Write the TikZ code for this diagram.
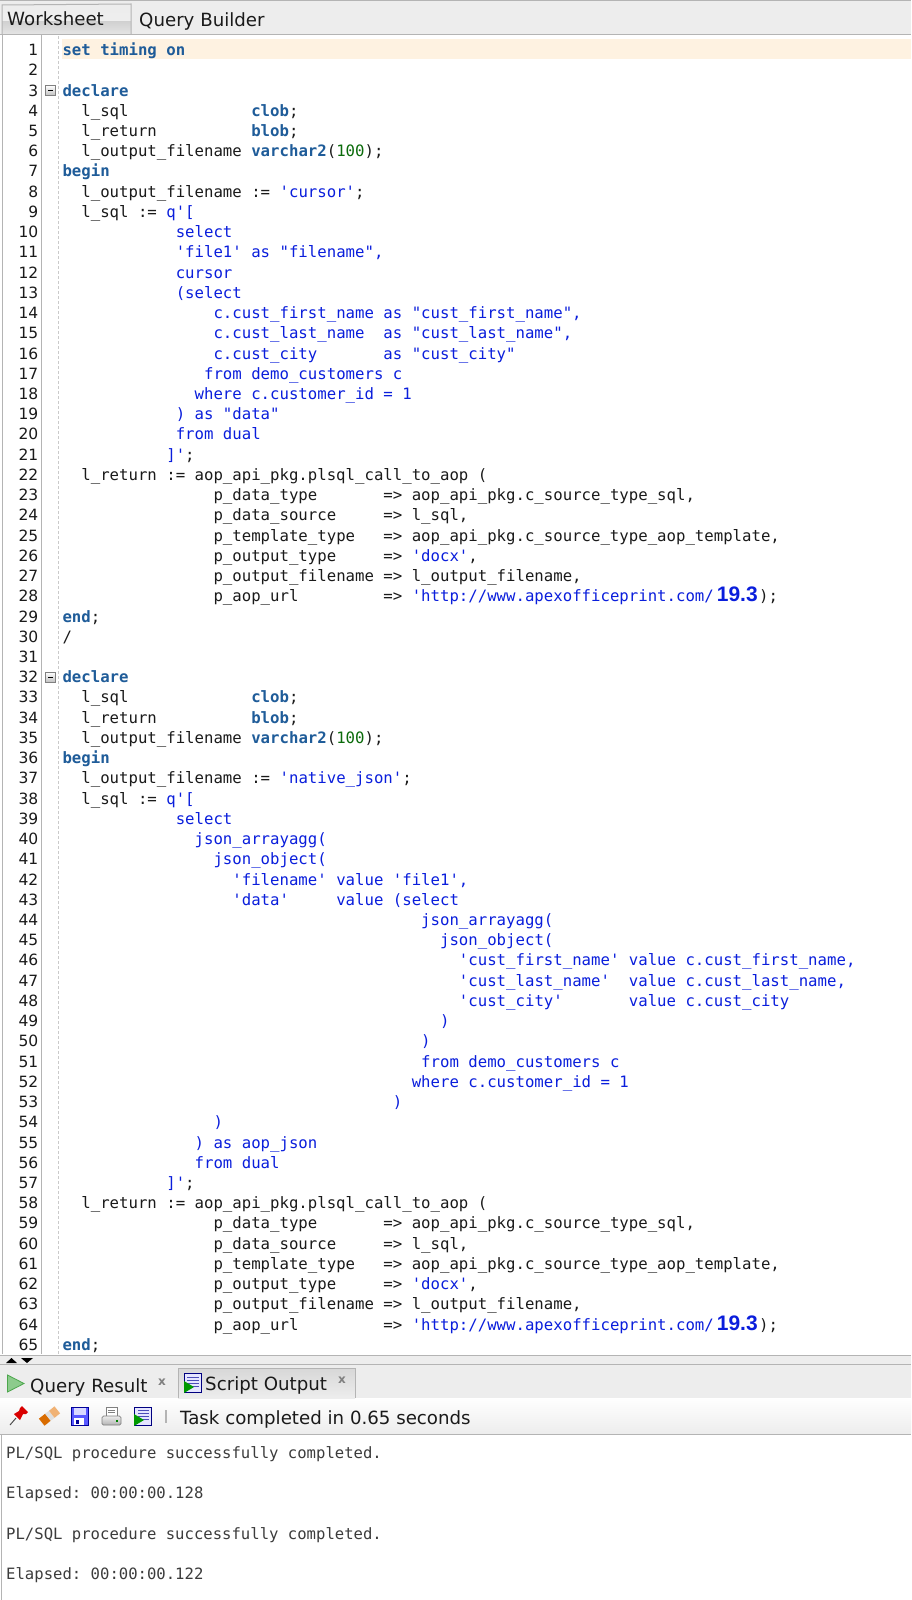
\documentclass[tikz,border=0pt]{standalone}
\usepackage{fontspec}
\newfontfamily\codefont{DejaVu Sans Mono}
\newfontfamily\uifont{DejaVu Sans}
\newfontfamily\bigfont{Liberation Sans}
\definecolor{kwc}{HTML}{1F5C99}
\definecolor{strc}{HTML}{0A1EDC}
\definecolor{numc}{HTML}{0B6B0B}
\definecolor{txtc}{HTML}{1A1A1A}
\definecolor{panel}{HTML}{EDEDED}
\definecolor{rulec}{HTML}{B4B4B4}
\newcommand\kw[1]{\textcolor{kwc}{\bfseries #1}}
\newcommand\strg[1]{\textcolor{strc}{#1}}
\newcommand\nm[1]{\textcolor{numc}{#1}}
\newcommand\ver{{\bigfont\bfseries\fontsize{21}{21}\selectfont 19.3}}
\newcommand\ypos[1]{\pgfmathsetmacro\yy{55.6+20.23*(#1-1)}}
\newcommand\cl[3]{\ypos{#1}\pgfmathsetmacro\xx{62.5+9.44*#2}\node[codeline] (L#1) at (\xx,\yy) {#3};}
\newcommand\lnum[1]{\ypos{#1}\node[linenum] (N#1) at (38.5,\yy) {#1};}
\tikzset{
 x=1pt,y=-1pt,
 codeline/.style={anchor=base west,inner sep=0pt,outer sep=0pt,font=\codefont\fontsize{15.68}{15.68}\selectfont\frenchspacing,text=txtc},
 linenum/.style={anchor=base east,inner sep=0pt,font=\uifont\fontsize{15.5}{15.5}\selectfont,text=txtc},
 uilabel/.style={anchor=base west,inner sep=0pt,font=\uifont\fontsize{18.2}{18.2}\selectfont,text=txtc},
 closex/.style={anchor=center,inner sep=0pt,font=\uifont\bfseries\fontsize{12}{12}\selectfont,text=gray},
 outline/.style={anchor=base west,inner sep=0pt,font=\codefont\fontsize{15.6}{15.6}\selectfont\frenchspacing,text=txtc!85!white},
 hair/.style={draw=rulec,line width=1pt},
}
\begin{document}
\begin{tikzpicture}
\useasboundingbox (0,0) rectangle (911,1600);
\fill[white] (0,0) rectangle (911,1600);
% top tab strip
\fill[panel] (0,0) rectangle (911,35);
\draw[hair] (0,0.5) -- (911,0.5);
\fill[top color=panel!60!gray!30!white,bottom color=panel!90!white] (2,4) rectangle (131,22);
\fill[top color=panel!75!gray,bottom color=panel!92!gray] (2,22) rectangle (131,34);
\draw[hair] (2,35) -- (2,5) -- (131,4) -- (131,34);
\node[uilabel] (tabW) at (7,26) {Worksheet};
\node[uilabel] (tabQ) at (139,27) {Query Builder};
\draw[hair] (0,35) -- (911,35);
\draw[hair] (2.5,35) -- (2.5,1354);
\draw[hair] (41,35) -- (41,1354);
\draw[rulec!70!white,line width=1pt,densely dashed] (58,36) -- (58,1354);
% current line
\fill[yellow!8!orange!10!white] (62,39) rectangle (911,59);
% folds
\foreach \ff in {3,32}{
 \ypos{\ff}
 \draw[gray,top color=white,bottom color=gray!50,line width=.7pt] (45.5,\yy-10.5) rectangle (55.5,\yy-.5);
 \draw[black,line width=1pt] (48,\yy-5.5) -- (53,\yy-5.5);
}
% numbers
\foreach \n in {1,...,65}{\lnum{\n}}
% code
\cl{1}{0}{\kw{set timing on}}
\cl{3}{0}{\kw{declare}}
\cl{4}{2}{l\_sql~~~~~~~~~~~~~\kw{clob};}
\cl{5}{2}{l\_return~~~~~~~~~~\kw{blob};}
\cl{6}{2}{l\_output\_filename \kw{varchar2}(\nm{100});}
\cl{7}{0}{\kw{begin}}
\cl{8}{2}{l\_output\_filename := \strg{'cursor'};}
\cl{9}{2}{l\_sql := \strg{q'[}}
\cl{10}{12}{\strg{select}}
\cl{11}{12}{\strg{'file1' as "filename",}}
\cl{12}{12}{\strg{cursor}}
\cl{13}{12}{\strg{(select}}
\cl{14}{16}{\strg{c.cust\_first\_name as "cust\_first\_name",}}
\cl{15}{16}{\strg{c.cust\_last\_name~~as "cust\_last\_name",}}
\cl{16}{16}{\strg{c.cust\_city~~~~~~~as "cust\_city"}}
\cl{17}{15}{\strg{from demo\_customers c}}
\cl{18}{14}{\strg{where c.customer\_id = 1}}
\cl{19}{12}{\strg{) as "data"}}
\cl{20}{12}{\strg{from dual}}
\cl{21}{11}{\strg{]'};}
\cl{22}{2}{l\_return := aop\_api\_pkg.plsql\_call\_to\_aop (}
\cl{23}{16}{p\_data\_type~~~~~~~=> aop\_api\_pkg.c\_source\_type\_sql,}
\cl{24}{16}{p\_data\_source~~~~~=> l\_sql,}
\cl{25}{16}{p\_template\_type~~~=> aop\_api\_pkg.c\_source\_type\_aop\_template,}
\cl{26}{16}{p\_output\_type~~~~~=> \strg{'docx'},}
\cl{27}{16}{p\_output\_filename => l\_output\_filename,}
\cl{28}{16}{p\_aop\_url~~~~~~~~~=> \strg{'http://www.apexofficeprint.com/}\kern3pt\textcolor{strc}{\ver}\kern1.5pt);}
\cl{29}{0}{\kw{end};}
\cl{30}{0}{/}
\cl{32}{0}{\kw{declare}}
\cl{33}{2}{l\_sql~~~~~~~~~~~~~\kw{clob};}
\cl{34}{2}{l\_return~~~~~~~~~~\kw{blob};}
\cl{35}{2}{l\_output\_filename \kw{varchar2}(\nm{100});}
\cl{36}{0}{\kw{begin}}
\cl{37}{2}{l\_output\_filename := \strg{'native\_json'};}
\cl{38}{2}{l\_sql := \strg{q'[}}
\cl{39}{12}{\strg{select}}
\cl{40}{14}{\strg{json\_arrayagg(}}
\cl{41}{16}{\strg{json\_object(}}
\cl{42}{18}{\strg{'filename' value 'file1',}}
\cl{43}{18}{\strg{'data'~~~~~value (select}}
\cl{44}{38}{\strg{json\_arrayagg(}}
\cl{45}{40}{\strg{json\_object(}}
\cl{46}{42}{\strg{'cust\_first\_name' value c.cust\_first\_name,}}
\cl{47}{42}{\strg{'cust\_last\_name'~~value c.cust\_last\_name,}}
\cl{48}{42}{\strg{'cust\_city'~~~~~~~value c.cust\_city}}
\cl{49}{40}{\strg{)}}
\cl{50}{38}{\strg{)}}
\cl{51}{38}{\strg{from demo\_customers c}}
\cl{52}{37}{\strg{where c.customer\_id = 1}}
\cl{53}{35}{\strg{)}}
\cl{54}{16}{\strg{)}}
\cl{55}{14}{\strg{) as aop\_json}}
\cl{56}{14}{\strg{from dual}}
\cl{57}{11}{\strg{]'};}
\cl{58}{2}{l\_return := aop\_api\_pkg.plsql\_call\_to\_aop (}
\cl{59}{16}{p\_data\_type~~~~~~~=> aop\_api\_pkg.c\_source\_type\_sql,}
\cl{60}{16}{p\_data\_source~~~~~=> l\_sql,}
\cl{61}{16}{p\_template\_type~~~=> aop\_api\_pkg.c\_source\_type\_aop\_template,}
\cl{62}{16}{p\_output\_type~~~~~=> \strg{'docx'},}
\cl{63}{16}{p\_output\_filename => l\_output\_filename,}
\cl{64}{16}{p\_aop\_url~~~~~~~~~=> \strg{'http://www.apexofficeprint.com/}\kern3pt\textcolor{strc}{\ver}\kern1.5pt);}
\cl{65}{0}{\kw{end};}
% bottom panel
\fill[panel] (0,1355) rectangle (911,1434);
\draw[hair] (0,1355) -- (911,1355);
\draw[hair] (0,1364) -- (911,1364);
\fill[black] (6,1363) -- (11.5,1358) -- (17,1363) -- cycle;
\fill[black] (21,1358) -- (27,1363) -- (33,1358) -- cycle;
\fill[top color=white,bottom color=panel] (0,1398) rectangle (911,1433);
\draw[white,line width=1pt] (0,1398) -- (178,1398);
\draw[white,line width=1pt] (355,1398) -- (911,1398);
\fill[top color=panel!80!gray,bottom color=panel] (178,1368) rectangle (355,1398);
\draw[hair] (178,1398) -- (178,1368) -- (355,1368) -- (355,1398);
% Query Result tab
\draw[green!50!black!70,fill=green!55!black!45,line width=.8pt] (7.5,1375) -- (24,1383.5) -- (7.5,1392) -- cycle;
\node[uilabel] (tabR) at (30,1392) {Query Result};
\node[closex] (xR) at (162,1382) {x};
% Script Output tab
\draw[blue!50!black,fill=blue!10,line width=1pt] (184,1373) rectangle (201,1392);
\foreach \yy in {1377,1380,1383,1386}{\draw[blue!60!black!70,line width=.8pt] (187,\yy) -- (199,\yy);}
\fill[green!60!black] (184,1381) -- (194,1387) -- (184,1393) -- cycle;
\node[uilabel] (tabS) at (205,1390) {Script Output};
\node[closex] (xS) at (342,1380) {x};
% toolbar icons
\fill[red!85!black] (22,1406) -- (28,1412) -- (26,1414) -- (23,1414) -- (20,1420) -- (14,1414) -- (19,1411) -- (20,1408) -- cycle;
\draw[black!70,line width=1pt] (16,1418) -- (10,1425);
\fill[orange!85!black] (38.9,1418.7) -- (44.5,1425.7) -- (50.7,1420.7) -- (45.1,1413.7) -- cycle;
\fill[gray!25] (45.1,1413.7) -- (50.7,1420.7) -- (54.6,1417.8) -- (49,1410.8) -- cycle;
\fill[orange!60!brown!60!white] (49,1410.8) -- (54.6,1417.8) -- (60.1,1413.3) -- (54.5,1406.3) -- cycle;
\draw[blue!60!black,fill=blue!65!white,line width=1pt] (71,1407) rectangle (88.5,1425);
\fill[blue!15!white] (74,1408) rectangle (86,1415);
\fill[white] (74,1418) rectangle (84,1425);
\fill[blue!60!black] (76,1420) rectangle (78.5,1424);
\draw[gray,fill=white,line width=.7pt] (106,1407) rectangle (117,1417);
\foreach \yy in {1410,1412.5}{\draw[gray,line width=.6pt] (108,\yy) -- (115,\yy);}
\draw[gray,top color=gray!15,bottom color=gray!60,line width=.7pt,rounded corners=1.5pt] (102,1416) rectangle (121,1425);
\fill[green!50!black] (116,1420) rectangle (118,1421.5);
\draw[blue!50!black,fill=blue!10,line width=1pt] (134,1407) rectangle (151,1425);
\foreach \yy in {1410.5,1413.5,1416.5,1419.5}{\draw[blue!60!black!70,line width=.8pt] (138,\yy) -- (149,\yy);}
\fill[green!60!black] (134,1414) -- (144,1420) -- (134,1426) -- cycle;
\draw[rulec,line width=1.5pt] (166,1410) -- (166,1423);
\node[uilabel] (status) at (180,1424) {Task completed in 0.65 seconds};
\draw[hair] (0,1434) -- (911,1434);
\draw[hair] (1.5,1434) -- (1.5,1600);
% output
\node[outline] (o1) at (6,1458) {PL/SQL procedure successfully completed.};
\node[outline] (o2) at (6,1498) {Elapsed: 00:00:00.128};
\node[outline] (o3) at (6,1539) {PL/SQL procedure successfully completed.};
\node[outline] (o4) at (6,1579) {Elapsed: 00:00:00.122};
\end{tikzpicture}
\end{document}
